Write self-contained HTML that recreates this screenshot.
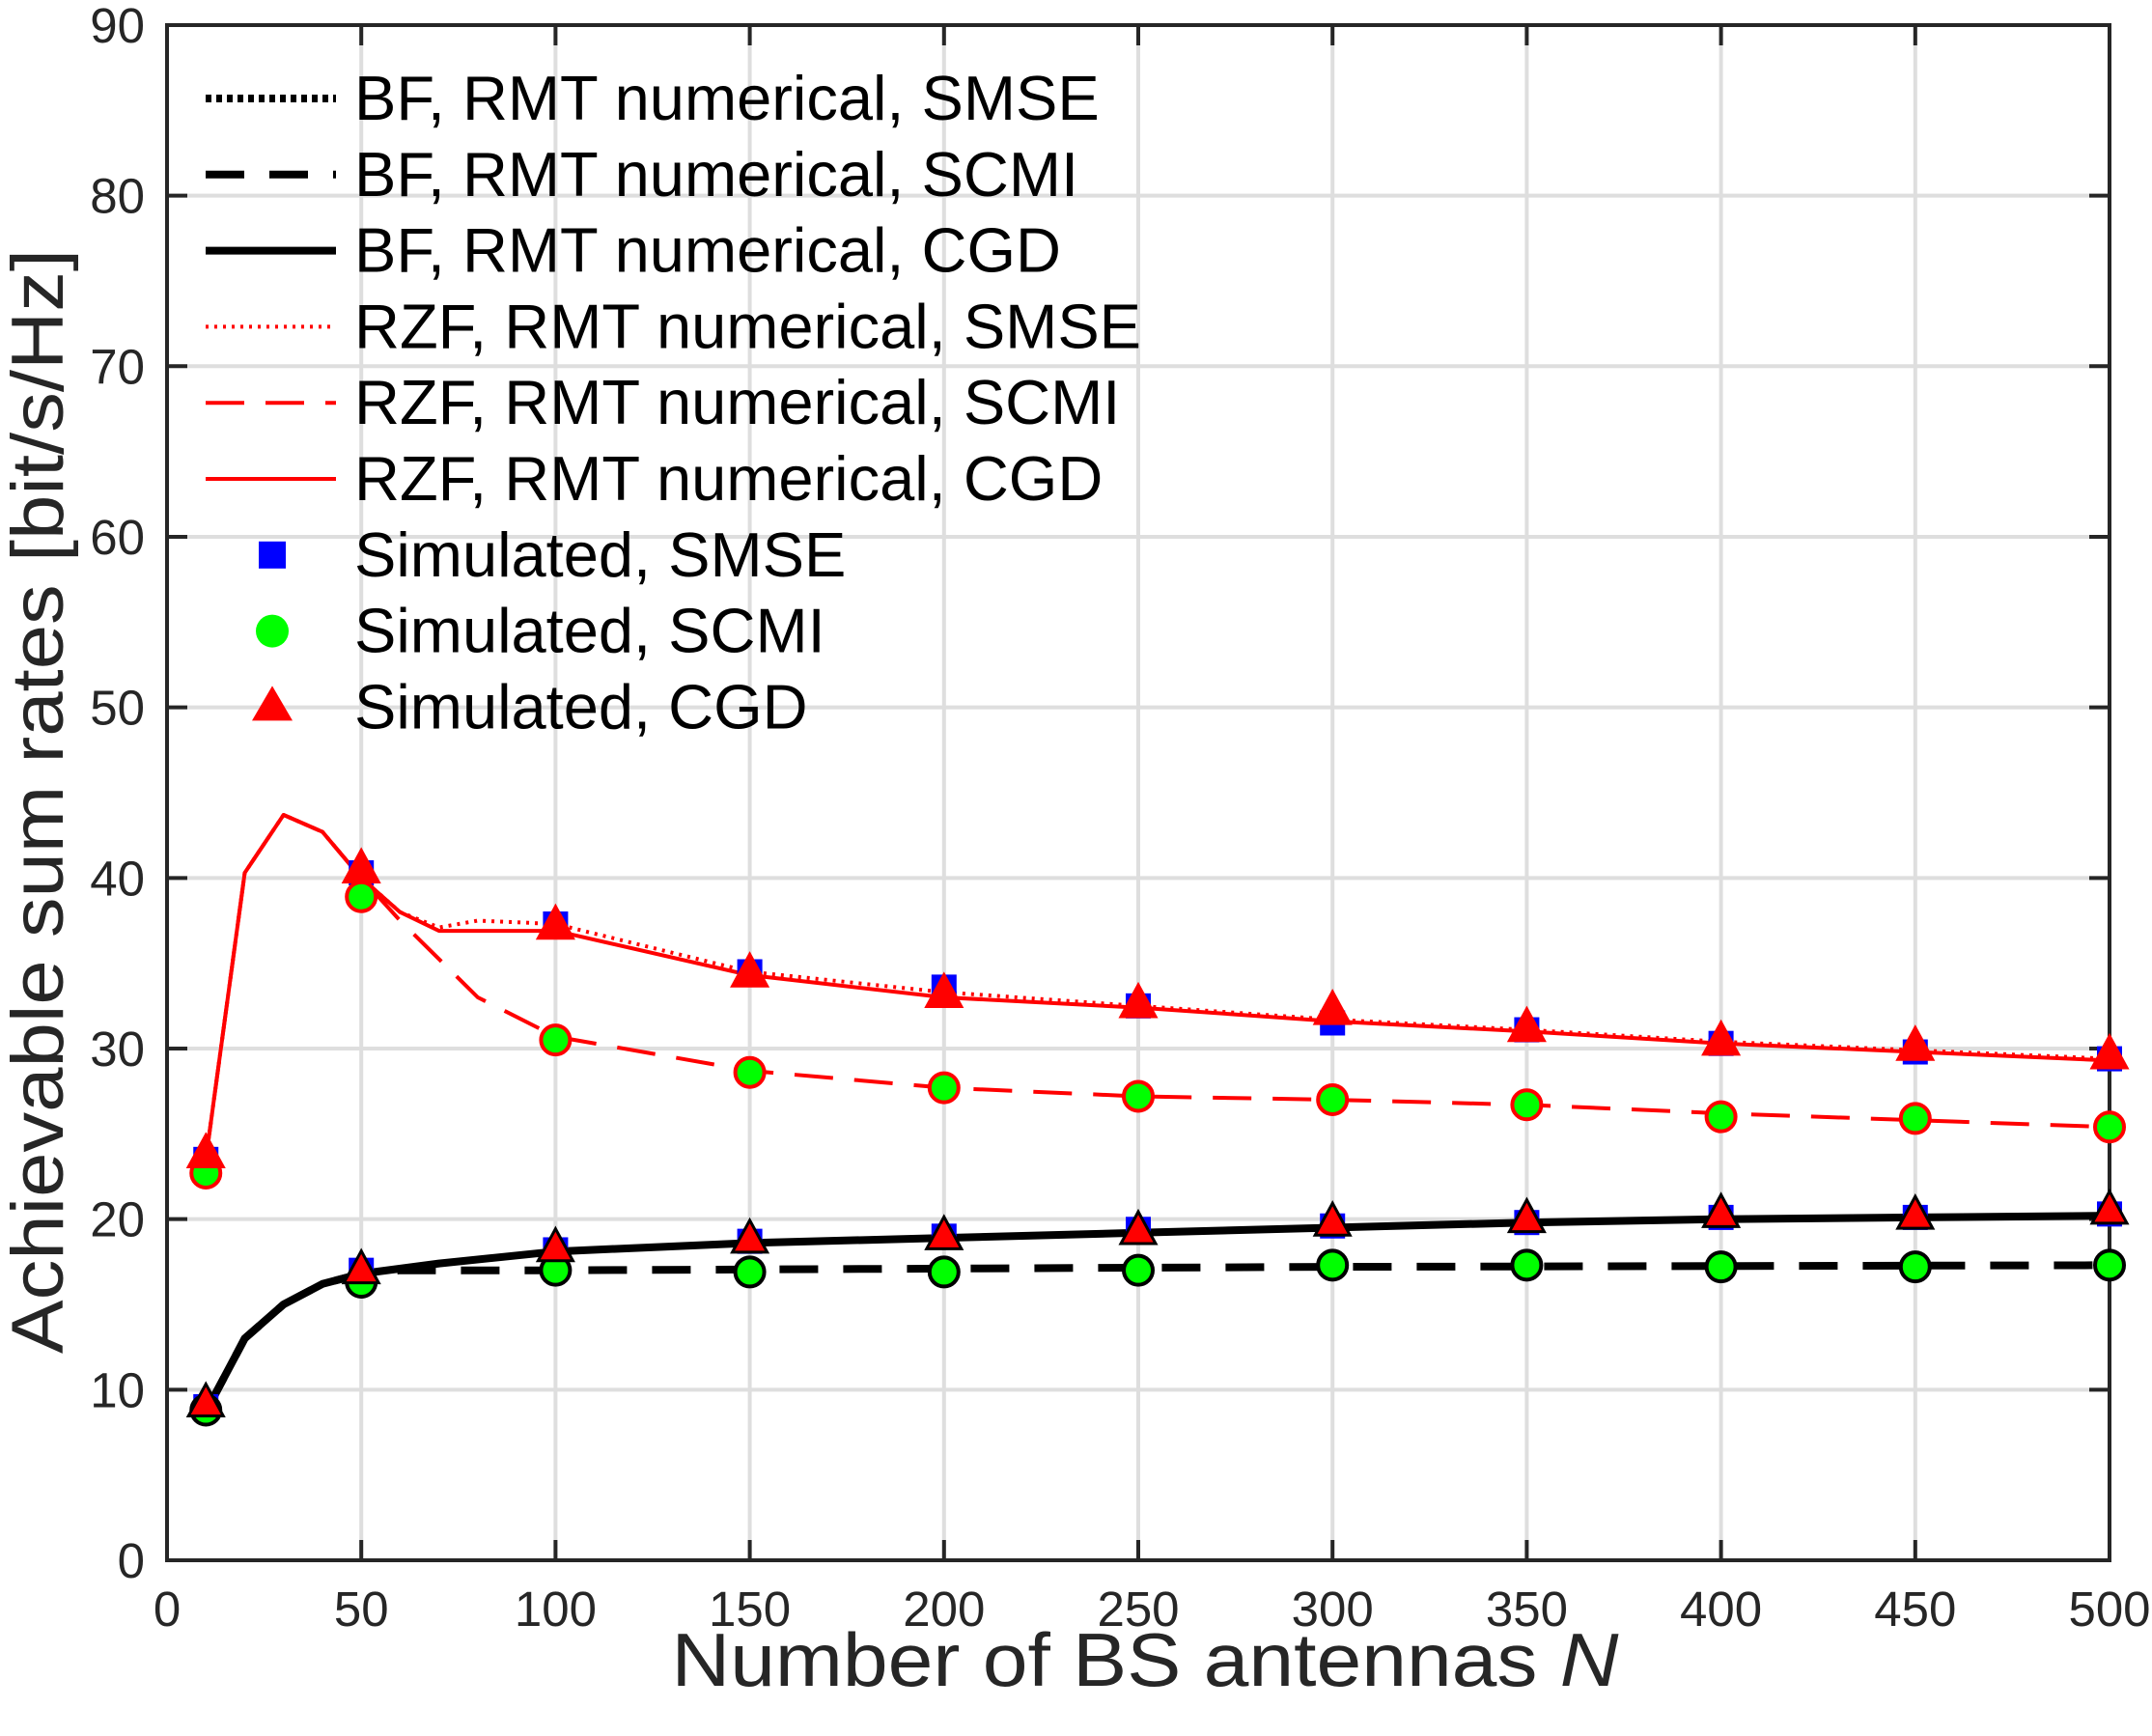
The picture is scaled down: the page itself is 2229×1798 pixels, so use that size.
<!DOCTYPE html>
<html><head><meta charset="utf-8"><style>html,body{margin:0;padding:0;background:#fff}svg{display:block}</style></head>
<body>
<svg id="s" xmlns="http://www.w3.org/2000/svg" width="2229" height="1798" viewBox="0 0 2229 1798" font-family="Liberation Sans, sans-serif"></svg>
<script>
const s=document.getElementById('s');
const X=n=>173+4.024*n, Y=v=>1616-17.667*v;
let h='<rect width="2229" height="1798" fill="#fff"/>';
for(let n=50;n<500;n+=50)h+=`<line x1="${X(n)}" y1="26" x2="${X(n)}" y2="1616" stroke="#dedede" stroke-width="4"/>`;
for(let v=10;v<90;v+=10)h+=`<line x1="173" y1="${Y(v)}" x2="2185" y2="${Y(v)}" stroke="#dedede" stroke-width="4"/>`;
for(let n=0;n<=500;n+=50){h+=`<line x1="${X(n)}" y1="1616" x2="${X(n)}" y2="1595" stroke="#262626" stroke-width="4"/><line x1="${X(n)}" y1="26" x2="${X(n)}" y2="47" stroke="#262626" stroke-width="4"/>`;
h+=`<text x="${X(n)}" y="1684" font-size="51" text-anchor="middle" fill="#262626">${n}</text>`;}
for(let v=0;v<=90;v+=10){h+=`<line x1="173" y1="${Y(v)}" x2="194" y2="${Y(v)}" stroke="#262626" stroke-width="4"/><line x1="2185" y1="${Y(v)}" x2="2164" y2="${Y(v)}" stroke="#262626" stroke-width="4"/>`;
h+=`<text x="150" y="${Y(v)+18}" font-size="51" text-anchor="end" fill="#262626">${v}</text>`;}
h+='<rect x="173" y="26" width="2012" height="1590" fill="none" stroke="#262626" stroke-width="4"/>';
const P=a=>a.map(p=>X(p[0]).toFixed(1)+','+Y(p[1]).toFixed(1)).join(' ');
const pl=(a,c,w,d)=>h+=`<polyline points="${P(a)}" fill="none" stroke="${c}" stroke-width="${w}" ${d?'stroke-dasharray="'+d+'"':''} stroke-linejoin="round"/>`;
const rc=[[10,23.5],[20,40.3],[30,43.7],[40,42.7],[50,40],[60,38],[70,36.9],[100,36.9],[150,34.3],[200,33],[250,32.4],[300,31.6],[350,31],[400,30.3],[450,29.8],[500,29.3]];
const rs=[[10,23.5],[20,40.3],[30,43.7],[40,42.7],[50,40],[60,38],[70,37.1],[80,37.5],[100,37.3],[150,34.5],[200,33.3],[250,32.5],[300,31.7],[350,31.1],[400,30.4],[450,29.9],[500,29.4]];
const rd=[[10,23.5],[20,40.3],[30,43.7],[40,42.7],[50,40],[60,37.5],[80,33],[100,30.7],[150,28.7],[200,27.7],[250,27.2],[300,27],[350,26.7],[400,26.2],[450,25.8],[500,25.4]];
const bc=[[10,8.7],[20,13],[30,15],[40,16.2],[50,16.8],[70,17.4],[100,18.1],[150,18.6],[200,18.9],[250,19.2],[300,19.5],[350,19.8],[400,20],[450,20.1],[500,20.2]];
const bd=[[10,8.7],[20,13],[30,15],[40,16.2],[50,16.8],[60,17],[100,17],[200,17.1],[300,17.2],[500,17.3]];
pl(bd,'#000',8,'40 26');pl(bc,'#000',8);pl(bc,'#000',5,'5 5');
pl(rd,'#f00',4,'40 22');pl(rs,'#f00',4,'3 6');pl(rc,'#f00',4);
const sq=(n,v)=>h+=`<rect x="${X(n)-13}" y="${Y(v)-13}" width="26" height="26" fill="#00f"/>`;
const ci=(n,v,e)=>h+=`<circle cx="${X(n)}" cy="${Y(v)}" r="15" fill="#0f0" stroke="${e}" stroke-width="4"/>`;
const tr=(n,v,e)=>{const x=X(n),y=Y(v);h+=`<polygon points="${x},${y-20} ${x-18},${y+13} ${x+18},${y+13}" fill="#f00" stroke="${e}" stroke-width="3"/>`;};
const N=[10,50,100,150,200,250,300,350,400,450,500];
const rci=[22.7,38.9,30.5,28.6,27.7,27.2,27,26.7,26,25.9,25.4],bci=[8.8,16.3,17,16.9,16.9,17,17.3,17.3,17.2,17.2,17.3];
const rtr=[23.8,40.5,37.2,34.4,33.2,32.6,32.2,31.2,30.4,30.1,29.6],btr=[9.2,17,18.3,18.8,19,19.3,19.8,20,20.3,20.2,20.5];
const rsq=[23.5,40.3,37.3,34.5,33.6,32.5,31.5,31.1,30.3,29.8,29.4],bsq=[9,17,18.2,18.7,19,19.4,19.6,19.8,20.1,20.1,20.3];
N.forEach((n,i)=>{sq(n,rsq[i]);sq(n,bsq[i]);ci(n,rci[i],'#f00');ci(n,bci[i],'#000');tr(n,rtr[i],'#f00');tr(n,btr[i],'#000');});
const L=[['BF, RMT numerical, SMSE','#000',8,'6 5'],['BF, RMT numerical, SCMI','#000',8,'40 26'],['BF, RMT numerical, CGD','#000',8,''],['RZF, RMT numerical, SMSE','#f00',4,'3 6'],['RZF, RMT numerical, SCMI','#f00',4,'40 22'],['RZF, RMT numerical, CGD','#f00',4,''],['Simulated, SMSE'],['Simulated, SCMI'],['Simulated, CGD']];
L.forEach((l,i)=>{const y=102+i*78.8;
 if(i<6)h+=`<line x1="213" y1="${y}" x2="348" y2="${y}" stroke="${l[1]}" stroke-width="${l[2]}" ${l[3]?'stroke-dasharray="'+l[3]+'"':''}/>`;
 else if(i==6)h+=`<rect x="268" y="${y-14}" width="28" height="28" fill="#00f"/>`;
 else if(i==7)h+=`<circle cx="282" cy="${y}" r="17" fill="#0f0"/>`;
 else h+=`<polygon points="282,${y-22} 261,${y+14} 303,${y+14}" fill="#f00"/>`;
 h+=`<text x="367" y="${y+22}" font-size="65" fill="#000">${l[0]}</text>`;});
h+=`<text x="1186" y="1746" font-size="78" text-anchor="middle" fill="#262626" textLength="981" lengthAdjust="spacingAndGlyphs">Number of BS antennas <tspan font-style="italic">N</tspan></text>`;
h+=`<text transform="translate(65,830) rotate(-90)" font-size="76" text-anchor="middle" fill="#262626" textLength="1144" lengthAdjust="spacingAndGlyphs">Achievable sum rates [bit/s/Hz]</text>`;
s.innerHTML=h;
</script>
</body></html>
